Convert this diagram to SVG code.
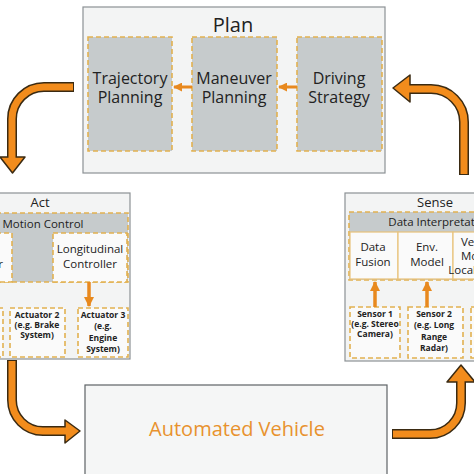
<svg xmlns="http://www.w3.org/2000/svg" width="474" height="474" viewBox="0 0 474 474">
<style>
text{font-family:"Open Sans","Noto Sans","Liberation Sans",sans-serif;fill:#222;text-anchor:middle}
.outer{fill:#f3f4f4;stroke:#8c9194;stroke-width:1.2}
.grayd{fill:#c6cbcc;stroke:#e2b150;stroke-width:1.6;stroke-dasharray:5,3}
.whited{fill:#fafafa;stroke:#e2b150;stroke-width:1.6;stroke-dasharray:5,3}
.cell{fill:#fafafa;stroke:#e8c27a;stroke-width:1.2}
.big{font-size:16px}
.mid{font-size:11.5px}
.sm{font-size:8.5px;font-weight:bold}
.title{font-size:20px}
.sub{font-size:13px}
.thk{fill:none;stroke-linecap:butt}
</style>
<defs>
<marker id="sa" viewBox="0 0 10 10" refX="9" refY="5" markerWidth="3" markerHeight="3" orient="auto"><path d="M0,0 L10,5 L0,10 Z" fill="#e8891e"/></marker>
</defs>

<g id="plan">
<rect class="outer" x="83" y="7" width="302" height="166"/>
<text class="title" x="233" y="32">Plan</text>
</g>
<g id="trajectory">
<rect class="grayd" x="88" y="37" width="84" height="114"/>
<text class="big" x="130" y="84">Trajectory</text>
<text class="big" x="130" y="103">Planning</text>
</g>
<g id="maneuver">
<rect class="grayd" x="192" y="37" width="85" height="114"/>
<text class="big" x="234" y="84">Maneuver</text>
<text class="big" x="234" y="103">Planning</text>
</g>
<g id="driving">
<rect class="grayd" x="297" y="37" width="85" height="114"/>
<text class="big" x="339" y="84">Driving</text>
<text class="big" x="339" y="103">Strategy</text>
</g>

<g id="act">
<rect class="outer" x="-5" y="193" width="135" height="166"/>
<text class="sub" x="40" y="207">Act</text>
</g>
<g id="motion-control">
<rect class="grayd" x="-20" y="213" width="148" height="69"/>
<text class="mid" x="43" y="228">Motion Control</text>
</g>
<g id="lateral">
<rect class="whited" x="-60" y="233" width="72" height="49"/>
<text class="mid" x="-24" y="268">Controller</text>
</g>
<g id="longitudinal">
<rect class="whited" x="53" y="233" width="74" height="49"/>
<text class="mid" x="90" y="253">Longitudinal</text>
<text class="mid" x="90" y="268">Controller</text>
</g>
<g id="actuator1">
<rect class="whited" x="-50" y="308" width="53" height="49"/>
</g>
<g id="actuator2">
<rect class="whited" x="10" y="308" width="55" height="49"/>
<text class="sm" x="37" y="318">Actuator 2</text>
<text class="sm" x="37" y="328">(e.g. Brake</text>
<text class="sm" x="37" y="338">System)</text>
</g>
<g id="actuator3">
<rect class="whited" x="78" y="308" width="50" height="49"/>
<text class="sm" x="103" y="318">Actuator 3</text>
<text class="sm" x="103" y="329">(e.g.</text>
<text class="sm" x="103" y="341">Engine</text>
<text class="sm" x="103" y="352">System)</text>
</g>

<g id="sense">
<rect class="outer" x="345" y="193" width="140" height="168"/>
<text class="sub" x="435" y="207">Sense</text>
</g>
<g id="data-interpretation">
<rect class="grayd" x="349" y="212" width="140" height="68"/>
<text class="mid" x="440" y="226">Data Interpretation</text>
</g>
<g id="data-fusion">
<rect class="cell" x="350" y="232" width="48" height="47"/>
<text class="mid" x="373" y="251">Data</text>
<text class="mid" x="373" y="266">Fusion</text>
</g>
<g id="env-model">
<rect class="cell" x="398" y="232" width="55" height="47"/>
<text class="mid" x="427" y="251">Env.</text>
<text class="mid" x="427" y="266">Model</text>
</g>
<g id="localization">
<rect class="cell" x="453" y="232" width="55" height="47"/>
<text class="mid" x="480" y="246">Vehicle</text>
<text class="mid" x="480" y="260">Motion</text>
<text class="mid" x="480" y="274">Localization</text>
</g>
<g id="sensor1">
<rect class="whited" x="350" y="307" width="50" height="51"/>
<text class="sm" x="375" y="317">Sensor 1</text>
<text class="sm" x="375" y="327">(e.g. Stereo</text>
<text class="sm" x="375" y="337">Camera)</text>
</g>
<g id="sensor2">
<rect class="whited" x="408" y="307" width="55" height="51"/>
<text class="sm" x="434" y="317">Sensor 2</text>
<text class="sm" x="434" y="328">(e.g. Long</text>
<text class="sm" x="434" y="340">Range</text>
<text class="sm" x="434" y="351">Radar)</text>
</g>
<g id="sensor3">
<rect class="whited" x="471" y="307" width="40" height="51"/>
</g>

<g id="vehicle">
<rect fill="#f5f6f6" stroke="#5e6366" stroke-width="1.2" x="85" y="385" width="302" height="100"/>
<text x="237" y="436" style="font-size:20px;fill:#e8922e">Automated Vehicle</text>
</g>

<g id="connectors">
<line x1="192" y1="87" x2="174" y2="87" stroke="#e8891e" stroke-width="3" marker-end="url(#sa)"/>
<line x1="297" y1="87" x2="279" y2="87" stroke="#e8891e" stroke-width="3" marker-end="url(#sa)"/>
<line x1="89" y1="282" x2="89" y2="306" stroke="#e8891e" stroke-width="3.5" marker-end="url(#sa)"/>
<line x1="375" y1="307" x2="375" y2="282" stroke="#e8891e" stroke-width="3.5" marker-end="url(#sa)"/>
<line x1="427" y1="307" x2="427" y2="282" stroke="#e8891e" stroke-width="3.5" marker-end="url(#sa)"/>

<path class="thk" d="M74,87 H44 A32,32 0 0 0 12,119 V158" stroke="#3a2a12" stroke-width="10"/>
<path d="M0,157 L25,157 L12.5,173 Z" fill="#f28c1c" stroke="#3a2a12" stroke-width="1.5" stroke-linejoin="round"/>
<path class="thk" d="M73,87 H44 A32,32 0 0 0 12,119 V159" stroke="#f28c1c" stroke-width="7"/>

<path class="thk" d="M464,175 V122 A33,33 0 0 0 431,89 H410" stroke="#3a2a12" stroke-width="10"/>
<path d="M410,75 L410,102 L393,88 Z" fill="#f28c1c" stroke="#3a2a12" stroke-width="1.5" stroke-linejoin="round"/>
<path class="thk" d="M464,174 V122 A33,33 0 0 0 431,89 H409" stroke="#f28c1c" stroke-width="7"/>

<path class="thk" d="M12,360 V400 A31,31 0 0 0 43,431 H66" stroke="#3a2a12" stroke-width="10"/>
<path d="M65,420 L65,443 L80,431 Z" fill="#f28c1c" stroke="#3a2a12" stroke-width="1.5" stroke-linejoin="round"/>
<path class="thk" d="M12,361 V400 A31,31 0 0 0 43,431 H67" stroke="#f28c1c" stroke-width="7"/>

<path class="thk" d="M392,434 H430 A31,31 0 0 0 461,403 V382" stroke="#3a2a12" stroke-width="10"/>
<path d="M447,382 L475,382 L461,365 Z" fill="#f28c1c" stroke="#3a2a12" stroke-width="1.5" stroke-linejoin="round"/>
<path class="thk" d="M393,434 H430 A31,31 0 0 0 461,403 V381" stroke="#f28c1c" stroke-width="7"/>
</g>
</svg>
